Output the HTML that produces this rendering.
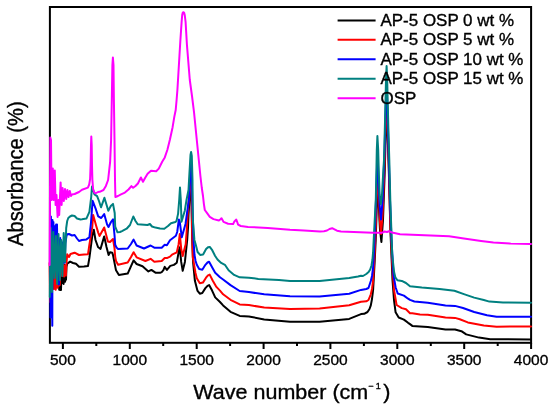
<!DOCTYPE html>
<html><head><meta charset="utf-8"><title>FTIR</title>
<style>
html,body{margin:0;padding:0;background:#fff;}
svg{display:block;}
text{font-family:"Liberation Sans",Arial,sans-serif;fill:#000;}
</style></head><body>
<svg width="550" height="406" viewBox="0 0 550 406">
<rect width="550" height="406" fill="#fff"/>
<rect x="49.9" y="7.0" width="481.2" height="335.8" fill="none" stroke="#000" stroke-width="2"/>
<g fill="none" stroke-width="2" stroke-linejoin="round" stroke-linecap="round">
<polyline stroke="#000" points="50.0,268.7 50.5,284.1 50.9,269.8 51.4,283.7 51.8,268.5 52.3,285.4 52.7,268.4 53.2,285.4 53.6,270.0 54.1,285.6 54.5,269.4 55.0,285.4 55.4,268.8 55.9,284.8 56.3,270.3 56.8,284.4 57.2,268.0 57.7,285.3 58.1,268.4 58.6,283.6 58.7,276.2 59.2,289.8 59.6,276.2 60.1,290.0 60.5,276.6 61.0,289.9 61.4,274.7 61.8,282.8 62.2,269.2 62.7,283.1 63.2,269.4 63.6,283.9 64.1,268.9 64.2,280.8 64.7,264.8 65.1,281.7 65.6,266.2 66.0,279.8 66.5,266.7 67.2,263.8 70.1,261.6 73.0,263.0 76.0,263.8 79.0,266.8 84.0,266.5 88.0,266.0 89.4,257.9 92.3,235.7 93.8,229.7 95.5,240.0 98.0,247.0 100.5,249.0 104.2,236.4 106.5,247.0 108.6,255.0 110.0,252.2 112.3,252.7 113.0,255.1 115.9,269.9 116.5,271.0 118.9,275.0 127.7,273.6 133.6,260.3 136.6,264.0 142.5,266.2 148.4,271.4 151.4,269.9 155.8,272.8 160.0,272.8 161.7,272.1 163.4,270.2 164.7,266.9 165.2,267.6 166.9,269.9 170.3,265.9 173.9,264.9 176.8,262.7 179.0,250.1 179.8,247.2 181.2,261.9 182.7,270.8 184.9,261.9 187.2,239.8 188.0,228.0 188.5,215.0 189.8,195.0 190.6,190.0 191.4,198.0 192.2,240.0 193.1,262.3 194.9,280.8 197.4,290.6 199.8,293.7 202.3,293.0 205.4,288.1 207.5,285.8 209.1,285.1 212.1,290.6 215.2,297.4 220.0,302.0 223.1,305.4 230.5,311.8 239.7,315.9 248.9,316.4 264.2,319.5 290.0,321.8 319.6,321.8 349.2,318.9 361.0,314.1 364.2,313.8 367.5,312.0 369.5,309.0 370.8,305.4 372.0,299.0 373.1,289.9 374.1,272.0 374.8,258.8 375.7,240.0 377.0,200.0 377.7,175.0 378.5,200.0 380.0,230.0 381.4,242.0 383.0,220.0 384.8,170.0 385.8,130.0 386.6,105.0 387.5,130.0 388.8,170.0 390.4,230.0 392.5,280.0 394.0,300.0 395.6,312.3 398.7,317.5 403.9,319.6 408.1,322.8 410.0,324.1 412.3,325.9 420.0,326.5 427.8,327.1 445.5,329.5 455.0,329.5 461.4,331.2 466.2,334.4 479.0,337.6 490.2,339.2 531.0,339.5"/>
<polyline stroke="#f00" points="49.6,263.1 50.1,302.1 50.5,266.4 50.6,276.0 51.1,252.1 51.5,275.5 52.0,250.8 52.4,275.8 52.9,252.6 53.0,287.0 53.5,265.4 53.9,288.9 54.4,265.3 54.8,287.0 55.3,267.6 55.7,289.8 56.2,268.7 56.6,286.4 57.1,267.5 57.5,287.7 58.0,265.6 58.0,285.9 58.5,263.9 58.9,285.8 59.4,262.7 59.8,285.1 60.3,262.1 60.5,276.1 61.0,264.9 61.4,275.4 61.9,265.0 62.3,275.8 62.8,265.0 63.2,275.7 63.7,264.9 64.1,276.5 64.6,265.9 65.0,275.1 65.5,265.6 65.9,275.6 66.4,264.6 67.2,254.2 69.0,257.0 70.5,254.0 74.6,252.7 79.0,255.0 84.0,254.5 88.0,254.2 89.4,244.6 92.3,226.8 93.1,214.9 94.0,218.0 96.0,225.2 98.2,232.6 99.5,236.0 104.2,227.5 107.9,241.5 110.0,242.0 113.0,239.0 114.5,248.0 115.2,256.6 116.0,260.9 118.1,264.7 127.7,262.5 131.0,257.0 133.6,252.2 136.6,257.3 145.4,261.0 150.6,258.8 154.3,261.8 161.7,261.0 164.7,258.0 166.9,258.1 170.0,256.6 172.0,254.7 176.8,252.3 178.6,244.2 179.8,233.9 181.2,248.6 182.7,256.0 184.2,250.0 185.7,244.2 186.6,232.0 188.0,210.0 189.5,190.0 190.7,182.0 191.5,190.0 192.2,234.3 192.8,257.2 194.3,266.0 195.5,273.0 196.8,278.3 199.8,283.2 202.9,282.6 206.0,277.7 208.0,275.3 209.7,274.6 212.8,280.8 216.4,286.9 220.0,290.6 223.1,294.3 230.5,299.8 239.7,304.4 248.9,305.0 264.2,307.6 290.0,309.1 319.6,308.5 349.2,305.3 361.0,301.7 366.3,301.3 368.5,300.0 370.8,294.3 372.0,289.0 373.1,281.0 374.2,262.0 374.8,250.0 375.8,225.0 377.0,185.0 377.6,165.0 378.4,185.0 379.8,220.0 381.0,234.0 382.6,215.0 384.7,160.0 385.7,120.0 386.6,95.0 387.5,120.0 388.7,160.0 390.2,220.0 392.0,260.0 394.0,290.0 396.6,305.0 401.8,308.1 406.0,309.2 410.0,313.2 412.3,313.3 420.0,314.4 427.8,314.7 445.5,317.6 455.0,317.9 459.8,319.2 467.8,322.4 483.8,325.6 496.6,326.7 531.0,326.4"/>
<polyline stroke="#00f" points="50.0,214.2 50.5,317.4 50.9,216.5 51.4,316.4 51.8,221.0 52.3,325.8 52.5,220.1 53.0,262.0 53.4,221.9 53.9,266.3 54.3,227.2 54.8,264.6 55.2,226.0 55.7,264.6 56.1,224.6 56.6,266.9 57.0,224.6 57.5,261.8 57.5,240.8 58.0,279.7 58.4,241.8 58.9,284.5 59.3,239.8 59.8,259.8 60.2,238.1 60.7,261.9 61.1,240.2 61.2,264.2 61.7,242.8 62.1,262.6 62.6,242.8 63.0,262.4 63.5,241.5 63.9,262.9 64.4,241.7 64.8,262.4 65.3,243.4 66.5,236.0 67.2,234.2 69.0,234.0 72.0,235.5 74.6,235.0 77.0,238.5 79.0,241.0 82.0,240.0 86.4,239.4 89.4,237.2 90.9,223.7 92.6,200.8 93.5,203.0 96.0,209.7 98.2,216.4 101.2,218.0 104.2,214.1 107.1,224.5 108.5,227.0 111.0,222.0 113.0,219.3 114.5,235.0 115.2,244.8 116.5,247.5 118.1,248.9 127.7,248.5 131.0,244.0 133.6,239.6 136.6,245.5 144.0,248.5 150.6,245.5 154.3,247.7 161.7,247.7 164.7,244.8 166.9,245.2 170.0,240.2 175.9,235.8 177.2,232.0 178.9,219.5 179.8,222.0 181.8,237.3 185.5,224.0 189.2,197.4 190.2,172.0 190.9,164.0 191.6,170.0 192.3,200.0 193.6,241.7 194.5,255.0 195.6,261.0 196.8,264.8 199.2,269.1 202.3,269.7 205.4,264.8 207.5,262.5 209.1,261.7 212.1,267.2 215.2,272.8 220.0,277.3 223.1,279.5 230.5,285.1 239.7,291.0 248.9,292.1 264.2,294.3 290.0,296.2 319.6,296.4 349.2,293.7 361.0,289.9 366.3,289.0 368.5,288.0 370.8,281.0 372.0,276.0 373.1,267.7 374.2,247.7 375.3,220.0 376.8,175.0 377.5,150.0 378.3,175.0 379.6,205.0 381.0,219.5 382.6,200.0 384.6,150.0 385.6,110.0 386.6,85.0 387.5,110.0 388.6,150.0 390.0,200.0 391.5,240.0 393.5,275.0 395.6,287.2 397.7,293.5 403.9,295.6 408.1,298.7 410.0,299.9 414.4,301.5 427.8,302.8 445.5,305.6 455.0,305.9 463.0,308.0 474.2,312.0 487.0,315.2 496.6,316.8 531.0,316.8"/>
<polyline stroke="#008080" points="49.8,297.0 50.8,228.0 52.0,292.0 53.3,232.0 54.6,278.0 55.9,236.0 57.2,284.0 58.5,234.0 59.8,280.0 61.1,240.0 62.4,276.0 63.7,233.0 65.0,262.0 66.2,228.0 67.2,221.0 68.3,218.0 70.0,216.5 72.0,215.5 74.6,216.0 77.0,218.5 80.5,219.5 82.0,219.3 86.4,218.6 89.4,211.9 91.2,197.2 92.0,186.5 92.8,189.0 94.5,194.4 97.1,196.1 99.0,201.0 101.0,207.3 104.4,197.8 106.3,204.0 108.3,210.8 110.8,206.0 113.0,203.9 114.7,213.0 115.2,226.7 117.5,232.3 120.0,232.0 122.0,231.1 126.6,228.7 130.0,225.0 133.3,216.5 135.5,221.0 137.7,224.3 144.3,224.7 147.5,225.0 149.9,224.0 152.0,226.5 155.4,227.6 160.0,228.5 164.3,228.7 168.0,226.0 171.0,223.2 175.4,222.0 176.5,221.0 178.1,213.6 179.2,200.0 180.0,187.5 180.8,200.0 181.5,221.8 184.8,210.7 186.5,200.0 188.5,190.0 189.5,172.0 190.5,155.0 191.1,152.0 191.8,156.0 192.5,180.0 192.8,219.0 194.4,239.9 195.7,244.6 197.6,252.0 200.1,254.9 203.1,254.6 206.1,249.1 208.0,247.3 209.8,246.9 212.0,249.8 215.0,255.7 217.5,259.5 221.2,262.9 224.9,264.8 228.6,270.3 234.1,274.9 239.7,277.3 248.9,277.7 258.3,278.9 279.0,280.1 290.0,281.0 319.6,281.0 349.2,278.0 358.0,276.5 361.0,275.7 363.0,276.0 366.3,274.0 368.6,272.1 370.2,269.5 371.5,265.5 372.4,260.0 373.1,252.2 374.2,230.0 375.8,200.0 376.8,150.0 377.4,136.0 378.2,150.0 378.9,175.0 379.6,195.0 380.8,204.0 382.0,195.0 382.8,180.0 384.0,160.0 384.8,130.0 385.3,110.0 386.0,80.0 386.6,66.0 387.2,80.0 387.9,110.0 388.4,130.0 389.3,160.0 390.3,200.0 392.2,254.0 393.0,262.0 394.1,272.0 395.3,277.2 397.4,280.3 401.8,280.9 406.0,283.0 410.0,286.3 412.3,286.5 421.8,287.5 439.6,288.9 454.4,290.8 464.6,294.4 474.2,297.6 483.8,300.0 489.4,301.6 503.0,302.4 531.0,302.7"/>
<polyline stroke="#f0f" points="49.6,265.0 50.3,137.5 51.0,140.0 51.6,200.0 52.8,168.6 53.6,200.0 54.8,170.6 55.6,205.0 56.5,195.0 57.6,217.0 58.6,200.0 59.2,215.0 60.6,182.4 61.6,205.0 62.6,188.0 63.8,201.0 65.0,189.0 66.2,199.0 67.4,190.0 68.6,197.0 69.8,191.0 71.0,196.0 72.0,194.5 74.6,194.0 79.0,192.0 82.0,189.8 87.9,187.6 89.2,184.5 90.1,179.0 90.6,165.0 91.0,145.0 91.3,136.5 91.7,145.0 92.0,165.0 92.4,180.0 93.1,189.0 94.0,191.8 95.3,193.5 98.0,192.0 99.7,191.8 103.5,190.0 105.9,185.9 108.1,180.0 110.1,162.2 111.1,140.0 111.8,100.0 112.4,65.0 112.9,57.5 113.5,65.0 113.9,100.0 114.5,140.0 115.0,180.0 115.4,197.0 118.0,196.0 121.0,194.3 124.9,192.6 128.5,189.5 131.4,186.1 133.1,187.8 135.5,186.0 137.9,183.5 140.9,177.5 143.0,181.8 145.2,177.8 147.6,173.8 151.0,170.7 156.2,171.2 158.8,168.6 162.2,161.7 164.8,157.4 167.4,149.7 170.0,139.3 172.6,127.2 174.3,116.9 175.7,110.0 176.6,100.0 177.4,90.0 178.3,75.0 179.5,55.0 180.4,40.0 181.6,22.2 182.2,15.0 182.8,12.6 183.5,12.2 184.2,13.0 184.8,15.5 185.6,22.2 186.9,44.3 189.8,80.0 192.0,96.0 194.0,112.0 195.6,128.0 197.2,144.0 198.8,160.0 200.4,176.0 201.8,188.0 203.0,196.0 203.9,204.1 204.8,210.0 207.1,213.2 209.8,216.9 213.5,219.1 218.9,220.5 220.5,219.2 221.5,218.2 222.5,220.0 223.5,221.9 228.1,223.7 233.1,224.1 234.4,221.4 236.3,219.6 237.2,222.0 238.1,224.6 240.8,226.0 248.0,226.9 267.7,227.9 290.0,229.8 304.0,230.6 320.0,231.4 324.0,231.2 327.0,230.5 329.5,229.0 332.2,228.2 334.5,229.3 337.0,230.7 341.0,231.4 372.8,232.8 382.0,232.8 384.5,231.5 387.0,232.0 389.0,231.2 392.0,232.5 400.0,234.3 424.6,235.2 449.1,236.2 463.9,238.4 481.1,240.9 493.4,242.6 510.6,243.6 531.0,244.1"/>
</g>
<path d="M62.9 342.8V349.0M96.3 342.8V346.0M129.8 342.8V349.0M163.2 342.8V346.0M196.7 342.8V349.0M230.1 342.8V346.0M263.6 342.8V349.0M297.0 342.8V346.0M330.4 342.8V349.0M363.9 342.8V346.0M397.3 342.8V349.0M430.8 342.8V346.0M464.2 342.8V349.0M497.7 342.8V346.0M531.1 342.8V349.0" stroke="#000" stroke-width="2" fill="none"/>
<text transform="translate(62.9 365.1) scale(1.02 1)" text-anchor="middle" font-size="15.2" stroke="#000" stroke-width="0.35">500</text>
<text transform="translate(129.8 365.1) scale(1.02 1)" text-anchor="middle" font-size="15.2" stroke="#000" stroke-width="0.35">1000</text>
<text transform="translate(196.7 365.1) scale(1.02 1)" text-anchor="middle" font-size="15.2" stroke="#000" stroke-width="0.35">1500</text>
<text transform="translate(263.6 365.1) scale(1.02 1)" text-anchor="middle" font-size="15.2" stroke="#000" stroke-width="0.35">2000</text>
<text transform="translate(330.4 365.1) scale(1.02 1)" text-anchor="middle" font-size="15.2" stroke="#000" stroke-width="0.35">2500</text>
<text transform="translate(397.3 365.1) scale(1.02 1)" text-anchor="middle" font-size="15.2" stroke="#000" stroke-width="0.35">3000</text>
<text transform="translate(464.2 365.1) scale(1.02 1)" text-anchor="middle" font-size="15.2" stroke="#000" stroke-width="0.35">3500</text>
<text transform="translate(531.1 365.1) scale(1.02 1)" text-anchor="middle" font-size="15.2" stroke="#000" stroke-width="0.35">4000</text>
<text transform="translate(193.3 399.4) scale(1.076 1)" font-size="20" stroke="#000" stroke-width="0.35">Wave number (cm</text>
<text x="368.2" y="388.8" font-size="9" stroke="#000" stroke-width="0.35">−</text>
<text x="375.8" y="388.8" font-size="9" stroke="#000" stroke-width="0.35">1</text>
<text transform="translate(383.2 399.4) scale(1.076 1)" font-size="20" stroke="#000" stroke-width="0.35">)</text>
<text transform="translate(22.6 245.9) rotate(-90) scale(1.0085 1.06)" font-size="20" stroke="#000" stroke-width="0.35">Absorbance (%)</text>
<path d="M337.6 20.4H375.6" stroke="#000" stroke-width="2"/>
<text transform="translate(380.5 26.0) scale(1.035 1)" font-size="16.4" stroke="#000" stroke-width="0.35">AP-5 OSP 0 wt %</text>
<path d="M337.6 39.8H375.6" stroke="#f00" stroke-width="2"/>
<text transform="translate(380.5 45.4) scale(1.035 1)" font-size="16.4" stroke="#000" stroke-width="0.35">AP-5 OSP 5 wt %</text>
<path d="M337.6 59.2H375.6" stroke="#00f" stroke-width="2"/>
<text transform="translate(380.5 64.8) scale(1.035 1)" font-size="16.4" stroke="#000" stroke-width="0.35">AP-5 OSP 10 wt %</text>
<path d="M337.6 78.8H375.6" stroke="#008080" stroke-width="2"/>
<text transform="translate(380.5 84.4) scale(1.035 1)" font-size="16.4" stroke="#000" stroke-width="0.35">AP-5 OSP 15 wt %</text>
<path d="M337.6 98.3H375.6" stroke="#f0f" stroke-width="2"/>
<text transform="translate(380.5 103.9) scale(1.035 1)" font-size="16.4" stroke="#000" stroke-width="0.35">OSP</text>
</svg>
</body></html>
